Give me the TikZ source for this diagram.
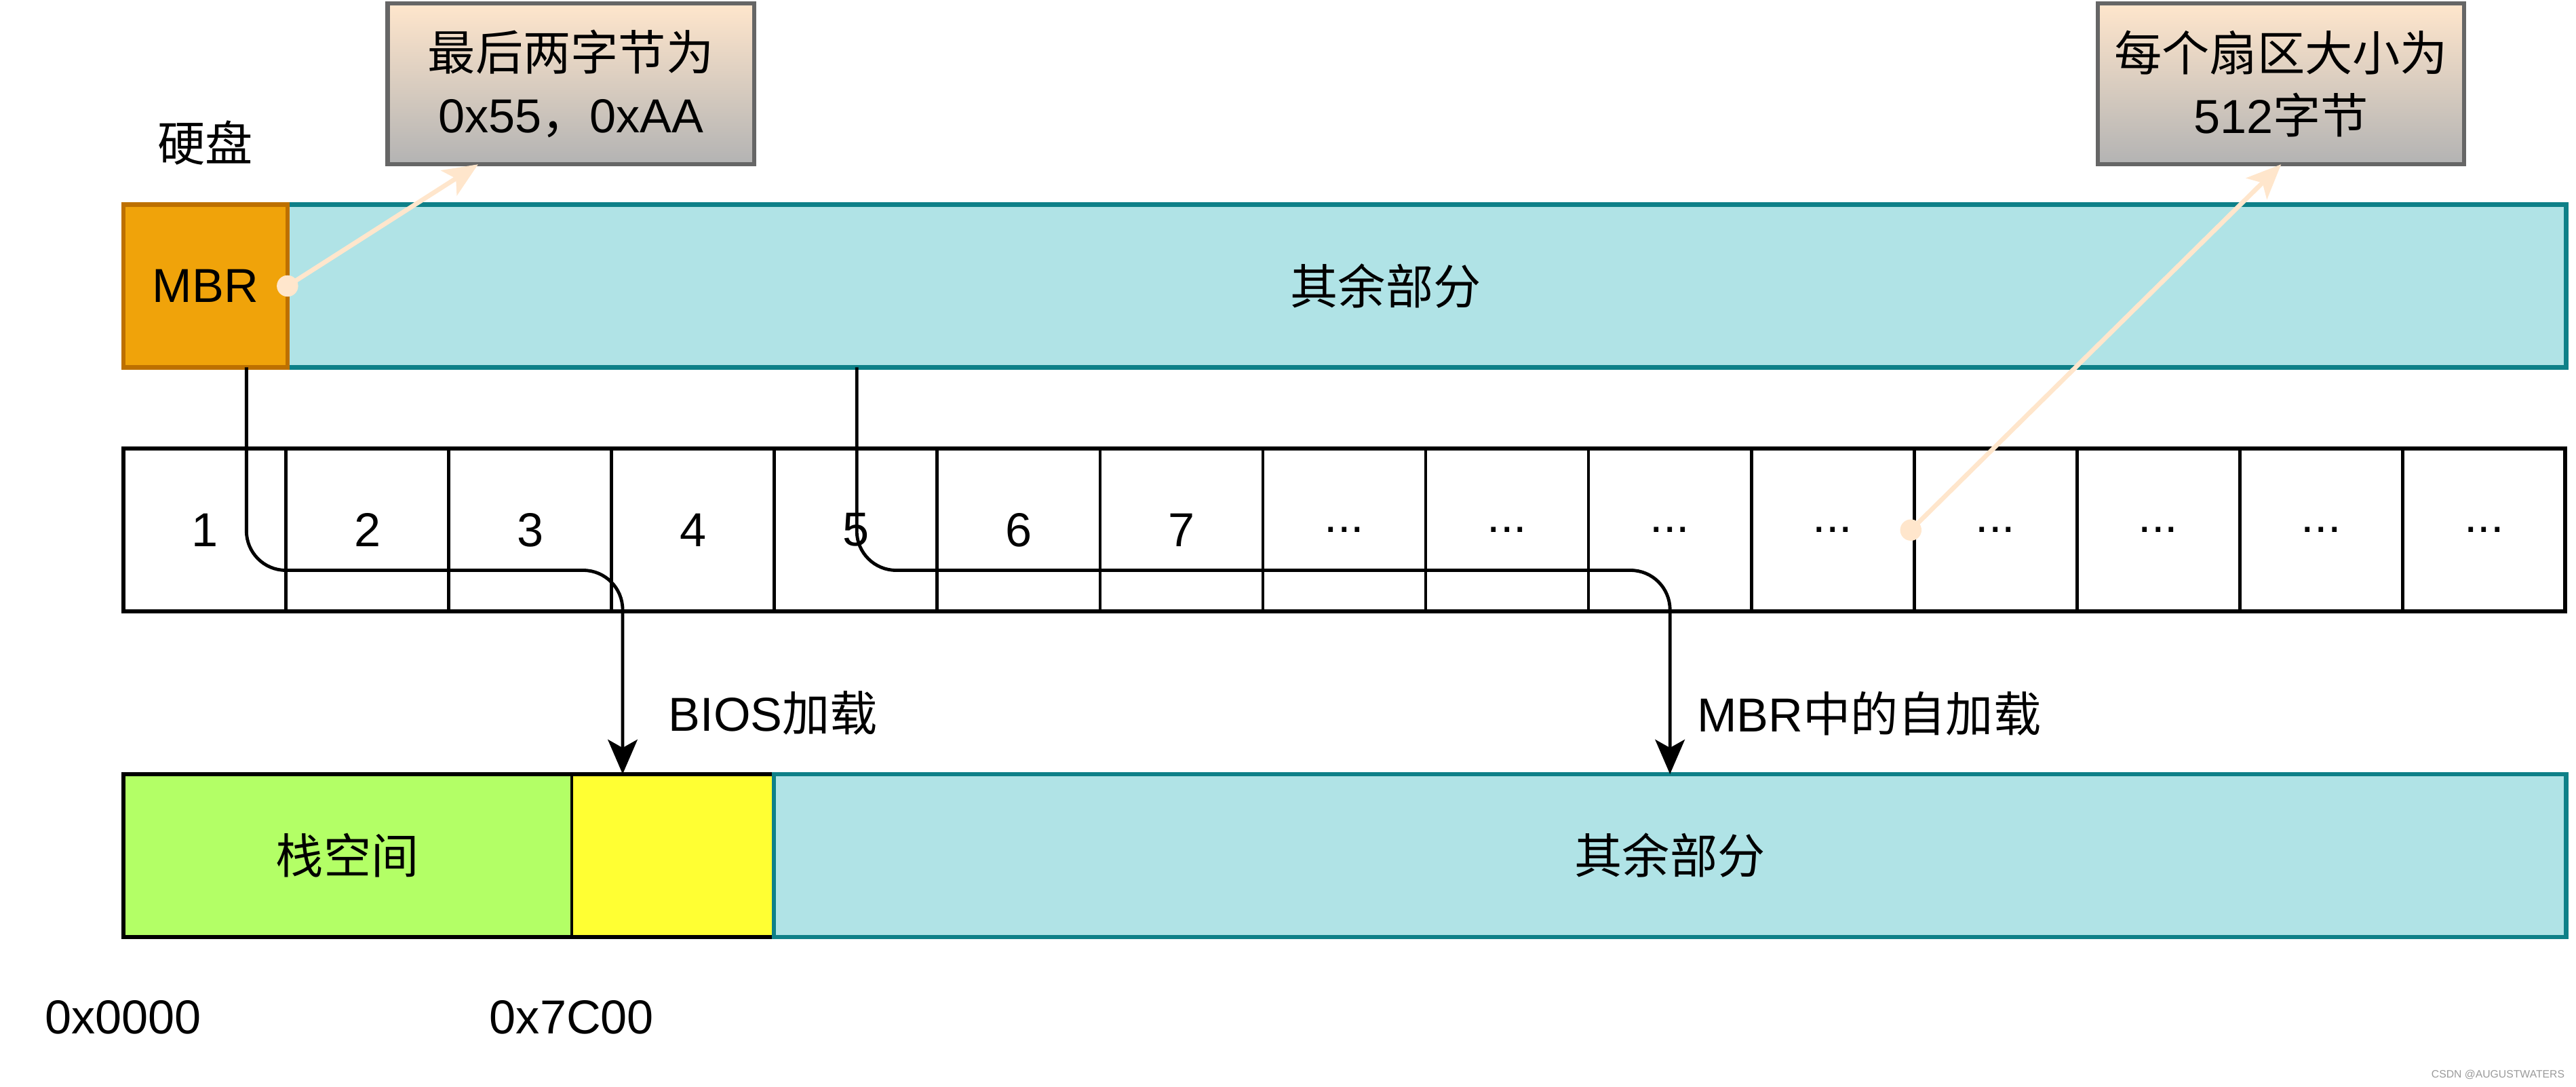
\documentclass[tikz,border=0pt]{standalone}
\usepackage{fontspec}
\setmainfont{Liberation Sans}
\newfontfamily\cjk{Noto Sans CJK SC}
\usetikzlibrary{arrows.meta,calc}
\definecolor{mbrfill}{HTML}{F0A30A}
\definecolor{mbrline}{HTML}{BD7000}
\definecolor{tealfill}{HTML}{B0E3E6}
\definecolor{tealline}{HTML}{0E8088}
\definecolor{greenfill}{HTML}{B3FF66}
\definecolor{yellowfill}{HTML}{FFFF33}
\definecolor{calltop}{HTML}{FFE6CC}
\definecolor{callbot}{HTML}{B3B3B3}
\definecolor{callline}{HTML}{666666}
\definecolor{markgray}{HTML}{9A9A9A}
\newcommand\myellip{...}
\begin{document}
\begin{tikzpicture}[x=1pt,y=-1pt,
  every node/.style={inner sep=0pt, outer sep=0pt, font=\fontsize{29}{38}\selectfont},
  bar/.style={draw, line width=2.6pt, minimum height=99pt},
  mbrbox/.style={bar, fill=mbrfill, draw=mbrline},
  tealbox/.style={bar, fill=tealfill, draw=tealline},
  cell/.style={draw, line width=2pt, minimum height=99pt, minimum width=99.1pt},
  memcell/.style={draw, line width=2pt, minimum height=99pt},
  callbox/.style={draw=callline, line width=2.6pt, top color=calltop, bottom color=callbot, minimum width=223pt, minimum height=98pt, align=center},
  conn/.style={draw, line width=2pt, rounded corners=24pt, -{Stealth[length=21pt, width=18pt, inset=5pt]}},
  noteline/.style={draw=calltop, line width=2.8pt, -{Stealth[length=21pt, width=18pt, inset=5pt]}},
  lbl/.style={anchor=west}
]
\useasboundingbox (0,0) rectangle (1568,661);

% hard disk bar
\node (disklbl) at (125,87) {\cjk 硬盘};
\node[tealbox, minimum width=1387pt] (rest1) at (868.5,174) {};
\node (rest1txt) at (843.5,174) {\cjk 其余部分};
\node[mbrbox, minimum width=100pt] (mbr) at (125,174) {MBR};

% sector row
\foreach \i in {1,2,3,4,5,6,7}{
  \node[cell] (c\i) at ({75+99.1*(\i-0.5)},322.5) {\i};
}
\foreach \i in {8,9,10,11,12,13,14,15}{
  \node[cell] (c\i) at ({75+99.1*(\i-0.5)},322.5) {\myellip};
}
\draw[line width=2.6pt] (c1.north west) rectangle (c15.south east);

% memory bar
\node[memcell, fill=greenfill, minimum width=273pt] (stack) at (211.5,520.5) {\cjk 栈空间};
\node[memcell, fill=yellowfill, minimum width=123pt] (yel) at (409.5,520.5) {};
\draw[line width=2.6pt] (stack.north west) rectangle (yel.south east);
\node[tealbox, minimum width=1091pt] (rest2) at (1016.5,520.5) {\cjk 其余部分};

% address labels
\node (a0) at (75,619) {0x0000};
\node (a1) at (348,619) {0x7C00};

% loading connectors
\coordinate (lane) at (0,347);
\coordinate (b1) at ($(mbr.south)+(25,0)$);
\coordinate (b2) at ($(yel.north)+(-30.5,0)$);
\draw[conn] (b1) -- (b1 |- lane) -- (b2 |- lane) -- (b2);
\coordinate (m1) at ($(rest1.south west)+(346.5,0)$);
\draw[conn] (m1) -- (m1 |- lane) -- (rest2.north |- lane) -- (rest2.north);
\node[lbl] (biosl) at (407,434) {BIOS{\cjk 加载}};
\node[lbl] (mbrl) at (1033,434) {MBR{\cjk 中的自加载}};

% callouts
\node[callbox] (call1) at (347.5,51) {{\cjk 最后两字节为}\\0x55{\cjk ，}0xAA};
\node[callbox] (call2) at (1388.5,51) {{\cjk 每个扇区大小为}\\512{\cjk 字节}};
\coordinate (t1) at ($(call1.south west)+(55,0)$);
\draw[noteline] (mbr.east) -- (t1);
\fill[calltop] (mbr.east) circle (6.5pt);
\coordinate (s2) at ($(c11.east)+(-2,0)$);
\draw[noteline] (s2) -- (call2.south);
\fill[calltop] (s2) circle (6.5pt);

% watermark
\node[anchor=east, font=\fontsize{6.5}{8}\selectfont, text=markgray] (wm) at (1561,654) {CSDN @AUGUSTWATERS};
\end{tikzpicture}
\end{document}
